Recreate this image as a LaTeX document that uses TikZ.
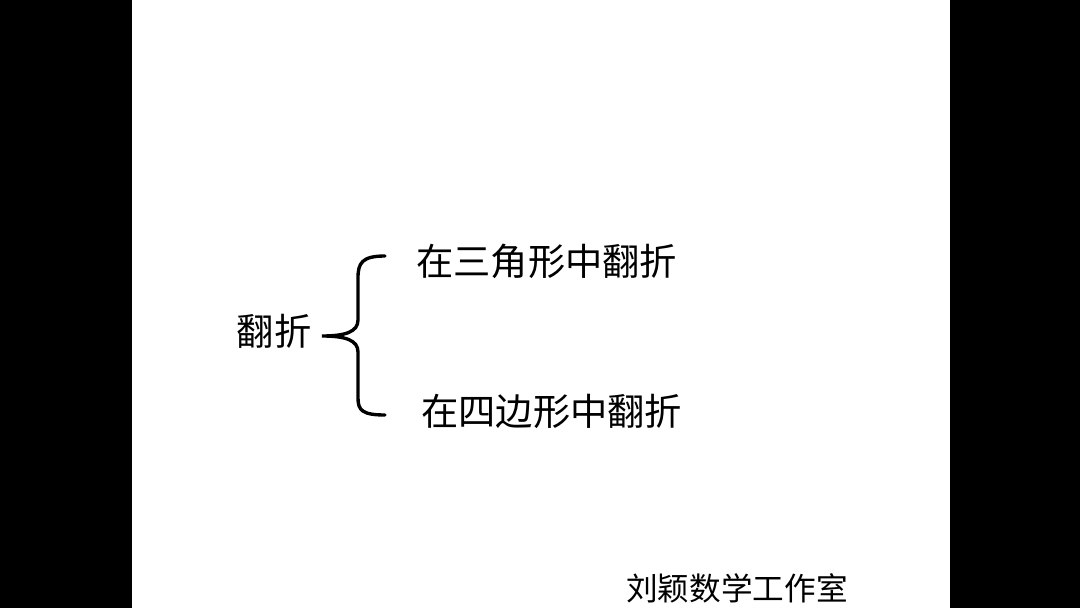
\documentclass[tikz,border=0pt]{standalone}
\usepackage{fontspec}
\newfontfamily\cjk{Noto Sans CJK SC}
\usetikzlibrary{positioning}
\tikzset{
lbl/.style={
  font=\cjk\fontsize{26.5}{30}\selectfont,
  inner sep=0pt
  },
brace/.style={
  line width=2.4pt,
  line cap=round
  }
}
\begin{document}
\begin{tikzpicture}[x=0.025cm,y=0.025cm]
        \fill[black] (0,0) rectangle (1080,608);
        \fill[white] (132,0) rectangle (950,608);
        \useasboundingbox (0,0) rectangle (1080,608);
        \node[lbl] at (274,277) (root) {翻折};
        \node[lbl,anchor=west] at (416,347) (tri) {在三角形中翻折};
        \node[lbl,anchor=west] at (421,197) (quad) {在四边形中翻折};
        \node[lbl,font=\cjk\fontsize{22.5}{26}\selectfont] at (737,20) (studio) {刘颖数学工作室};
        \coordinate (tip) at (322,272);
        \coordinate (top) at (385,352);
        \coordinate (bot) at (385,193);
        \draw[brace] (top) .. controls (362,352) and (358,345) .. (358,330)
          -- (358,288) .. controls (358,276) and (345,272) .. (tip)
          .. controls (345,272) and (358,268) .. (358,256)
          -- (358,210) .. controls (358,198) and (362,193) .. (bot);
    \end{tikzpicture}
\end{document}
